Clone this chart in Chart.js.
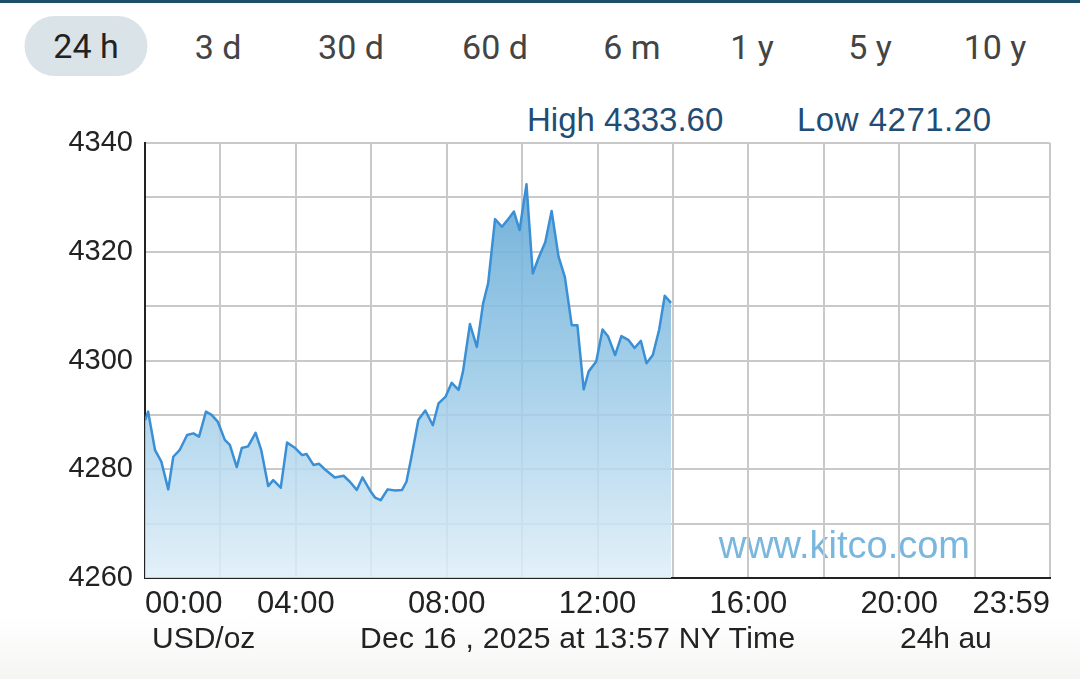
<!DOCTYPE html>
<html>
<head>
<meta charset="utf-8">
<script src="https://cdn.jsdelivr.net/npm/chart.js@4"></script>
<style>
	html, body { margin: 0; padding: 0; }
	body {
		width: 1080px; height: 679px; position: relative; overflow: hidden;
		background: linear-gradient(#ffffff 0px, #ffffff 615px, #f5f5f4 679px);
		font-family: "Liberation Sans", Arial, sans-serif;
	}
	#topline { position: absolute; left: 0; top: 0; width: 1080px; height: 3px; background: #1c4f68; }
	.tab {
		position: absolute; top: 17px; height: 60px; line-height: 60px;
		font-family: Roboto, sans-serif; font-size: 34px; color: #444;
		transform: translateX(-50%); white-space: nowrap;
	}
	.tab.active { background: #dae3e8; color: #222; border-radius: 30px; width: 123px; text-align: center; top: 16px; }
	.hilo { position: absolute; top: 101px; font-size: 33px; color: #1f4d75; white-space: nowrap; }
	#chartBox { position: absolute; left: 0; top: 100px; width: 1080px; height: 530px; }
	.foot { position: absolute; top: 621px; font-size: 30px; color: #222; white-space: nowrap; }
</style>
</head>
<body>
<div id="topline"></div>
<div class="tab active" style="left:86px">24 h</div>
<div class="tab" style="left:218px">3 d</div>
<div class="tab" style="left:351px">30 d</div>
<div class="tab" style="left:495px">60 d</div>
<div class="tab" style="left:632px">6 m</div>
<div class="tab" style="left:752px">1 y</div>
<div class="tab" style="left:870px">5 y</div>
<div class="tab" style="left:995px">10 y</div>

<div class="hilo" style="left:527px">High 4333.60</div>
<div class="hilo" style="left:797px; letter-spacing:0.5px">Low 4271.20</div>

<div id="chartBox"><canvas id="priceChart"></canvas></div>

<div class="foot" style="left:152px">USD/oz</div>
<div class="foot" style="left:360px; letter-spacing:0.3px">Dec 16 , 2025 at 13:57 NY Time</div>
<div class="foot" style="left:900px">24h au</div>

<script>
// minutes since midnight (NY time) and gold price USD/oz
const minutes = [
	0, 5, 16, 26, 37, 45, 55, 67, 77, 86,
	97, 106, 116, 127, 135, 146, 154, 164, 176, 185,
	196, 204, 216, 226, 239, 250, 257, 268, 277, 286,
	302, 316, 326, 337, 346, 358, 366, 375, 386, 398,
	409, 416, 424, 435, 446, 458, 467, 478, 488, 499,
	506, 517, 528, 538, 546, 557, 568, 578, 587, 596,
	607, 617, 626, 637, 647, 658, 668, 679, 688, 698,
	706, 718, 728, 737, 748, 758, 769, 779, 789, 798,
	808, 818, 827, 837
];
const prices = [
	4289.0, 4290.6, 4283.5, 4281.4, 4276.3, 4282.3, 4283.5, 4286.3, 4286.6, 4286.0,
	4290.6, 4290.0, 4288.7, 4285.4, 4284.5, 4280.4, 4283.9, 4284.2, 4286.7, 4283.5,
	4276.9, 4278.0, 4276.6, 4284.9, 4283.9, 4282.6, 4282.8, 4280.8, 4281.0, 4280.0,
	4278.5, 4278.8, 4277.7, 4276.2, 4278.5, 4276.1, 4274.8, 4274.3, 4276.3, 4276.1,
	4276.2, 4277.7, 4282.3, 4289.1, 4290.8, 4288.1, 4292.1, 4293.3, 4295.9, 4294.6,
	4298.0, 4306.7, 4302.5, 4310.5, 4314.2, 4326.0, 4324.6, 4326.0, 4327.4, 4324.0,
	4332.4, 4316.0, 4318.8, 4321.8, 4327.5, 4319.1, 4315.4, 4306.5, 4306.5, 4294.7,
	4298.0, 4299.8, 4305.7, 4304.4, 4301.0, 4304.5, 4303.8, 4302.3, 4303.6, 4299.5,
	4301.0, 4305.6, 4311.9, 4310.6
];
const yMin = 4260, yMax = 4340;
const xLabels = { 0: '00:00', 240: '04:00', 480: '08:00', 720: '12:00', 960: '16:00', 1200: '20:00', 1440: '23:59' };
const watermark = 'www.kitco.com';

const points = minutes.map((m, i) => ({ x: m, y: prices[i] }));

// faint site name inside the plot, under the grid
const watermarkPlugin = {
	id: 'watermark',
	beforeDraw(chart) {
		const c = chart.ctx;
		const a = chart.chartArea;
		c.save();
		c.font = '38px "Liberation Sans", Arial, sans-serif';
		c.fillStyle = '#79b7df';
		c.textAlign = 'right';
		c.textBaseline = 'alphabetic';
		c.fillText(watermark, a.right - 80, a.bottom - 20);
		c.restore();
	}
};

const ctx = document.getElementById('priceChart').getContext('2d');
const chart = new Chart(ctx, {
	type: 'line',
	data: {
		datasets: [{
			data: points,
			borderColor: '#3a8fd5',
			borderWidth: 2.5,
			borderJoinStyle: 'round',
			pointRadius: 0,
			tension: 0,
			fill: 'start',
			backgroundColor: (context) => {
				const area = context.chart.chartArea;
				if (!area) return 'rgba(120,180,220,0.6)';
				const g = context.chart.ctx.createLinearGradient(0, area.top, 0, area.bottom);
				g.addColorStop(0, 'rgba(90,162,210,0.92)');
				g.addColorStop(0.5, 'rgba(145,197,229,0.85)');
				g.addColorStop(1, 'rgba(222,238,248,0.85)');
				return g;
			}
		}]
	},
	options: {
		responsive: true,
		maintainAspectRatio: false,
		animation: false,
		layout: { padding: { left: 0, right: 30, top: 43, bottom: 0 } },
		plugins: { legend: { display: false }, tooltip: { enabled: false } },
		scales: {
			x: {
				type: 'linear',
				min: 0,
				max: 1440,
				afterFit: (scale) => { scale.height = 52; },
				afterBuildTicks: (scale) => {
					const t = [];
					for (let m = 0; m <= 1440; m += 120) t.push({ value: m });
					scale.ticks = t;
				},
				grid: { color: '#c9c9c9', lineWidth: 2, drawTicks: false },
				border: { color: '#222', width: 2 },
				ticks: {
					autoSkip: false,
					maxRotation: 0,
					align: 'inner',
					padding: 8,
					color: '#222',
					font: { family: '"Liberation Sans", Arial, sans-serif', size: 31 },
					callback: (v) => xLabels[v] !== undefined ? xLabels[v] : ''
				}
			},
			y: {
				min: yMin,
				max: yMax,
				afterFit: (scale) => { scale.width = 145; },
				grid: { color: '#c9c9c9', lineWidth: 2, drawTicks: false },
				border: { color: '#222', width: 2 },
				ticks: {
					stepSize: 10,
					padding: 12,
					color: '#222',
					font: { family: '"Liberation Sans", Arial, sans-serif', size: 29 },
					callback: (v) => v % 20 === 0 ? String(v) : ''
				}
			}
		}
	},
	plugins: [watermarkPlugin]
});
</script>
</body>
</html>
